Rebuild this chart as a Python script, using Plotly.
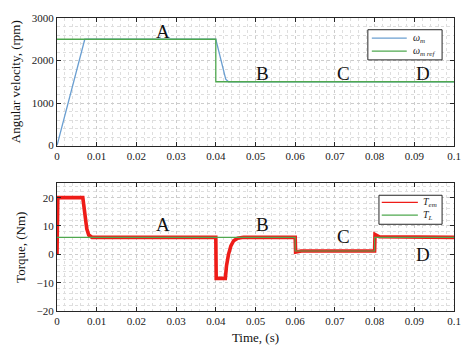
import plotly.graph_objects as go

# ---- data ----
t_w = [0, 0.007, 0.04, 0.0425, 0.0432, 0.1]
w_m = [0, 2500, 2500, 1560, 1500, 1500]
t_wref = [0, 0.04, 0.04, 0.1]
w_ref = [2500, 2500, 1500, 1500]

t_tem = [0, 0.0002, 0.0065, 0.0070, 0.0075, 0.0080, 0.0088, 0.04, 0.0401, 0.0424,
         0.0427, 0.0432, 0.0438, 0.0445, 0.0455, 0.047, 0.06, 0.0601, 0.0615, 0.08,
         0.0801, 0.0812, 0.1]
tem = [0, 20, 20, 14, 9, 6.8, 6, 6, -8.5, -8.5,
       -4, 0, 3, 4.8, 5.7, 6, 6, 0.8, 1.2, 1.2,
       7, 6.2, 6]
t_tl = [0, 0.06, 0.06, 0.08, 0.08, 0.1]
tl = [6, 6, 1.2, 1.2, 6, 6]

labels = ["A", "B", "C", "D"]
lab_t = [0.0267, 0.0518, 0.0721, 0.0922]
lab_w = [2690, 1690, 1690, 1690]
lab_tq = [10.4, 10.4, 6.3, 0.1]

x_ticks = [0, 0.01, 0.02, 0.03, 0.04, 0.05, 0.06, 0.07, 0.08, 0.09, 0.1]
y1_ticks = [0, 1000, 2000, 3000]
y2_ticks = [-20, -10, 0, 10, 20]

FONT = "Liberation Serif"
AX = "#262626"
C_WM = "#6b9fd1"
C_G = "#4fa84f"
C_R = "#ee1c18"

fig = go.Figure()
fig.add_trace(go.Scatter(x=t_w, y=w_m, mode="lines", line=dict(color=C_WM, width=1.3),
                         name="ω_m", xaxis="x", yaxis="y"))
fig.add_trace(go.Scatter(x=t_wref, y=w_ref, mode="lines", line=dict(color=C_G, width=1.3),
                         name="ω_m ref", xaxis="x", yaxis="y"))
fig.add_trace(go.Scatter(x=t_tem, y=tem, mode="lines", line=dict(color=C_R, width=3.6),
                         name="T_em", xaxis="x2", yaxis="y2"))
fig.add_trace(go.Scatter(x=t_tl, y=tl, mode="lines", line=dict(color=C_G, width=1.1),
                         name="T_L", xaxis="x2", yaxis="y2"))

annos = []
for lab, tx, wy, qy in zip(labels, lab_t, lab_w, lab_tq):
    annos.append(dict(x=tx, y=wy, xref="x", yref="y", text=lab, showarrow=False,
                      font=dict(family=FONT, size=19, color="#111")))
    annos.append(dict(x=tx, y=qy, xref="x2", yref="y2", text=lab, showarrow=False,
                      font=dict(family=FONT, size=19, color="#111")))

# ---- manual legends (box, line samples, labels) in paper coords ----
shapes = []
legends = [
    dict(box=(0.783, 0.857, 0.970, 0.960), lx=(0.793, 0.881), tx=0.892,
         items=[(0.931, C_WM, 1.3, "<i>ω<sub>m</sub></i>"),
                (0.887, C_G, 1.3, "<i>ω<sub>m ref</sub></i>")]),
    dict(box=(0.811, 0.296, 0.970, 0.395), lx=(0.818, 0.909), tx=0.916,
         items=[(0.371, C_R, 1.3, "<i>T<sub>em</sub></i>"),
                (0.327, C_G, 1.3, "<i>T<sub>L</sub></i>")]),
]
for lg in legends:
    x0, y0, x1, y1 = lg["box"]
    shapes.append(dict(type="rect", xref="paper", yref="paper", x0=x0, y0=y0, x1=x1, y1=y1,
                       line=dict(color=AX, width=1), fillcolor="white", layer="above"))
    for yy, col, wd, txt in lg["items"]:
        shapes.append(dict(type="line", xref="paper", yref="paper", x0=lg["lx"][0], x1=lg["lx"][1],
                           y0=yy, y1=yy, line=dict(color=col, width=wd), layer="above"))
        annos.append(dict(x=lg["tx"], y=yy, xref="paper", yref="paper", text=txt, showarrow=False,
                          xanchor="left", yanchor="middle",
                          font=dict(family=FONT, size=10, color="#222")))

def xax(anchor, title=None):
    d = dict(range=[0, 0.1], tickvals=x_ticks, ticks="inside", ticklen=4, tickcolor=AX,
             showline=True, linecolor=AX, linewidth=1, mirror="ticks",
             showgrid=True, gridcolor="#cccccc", griddash="dot", gridwidth=1,
             minor=dict(dtick=0.002, showgrid=True, gridcolor="#dedede", griddash="dot", ticks=""),
             zeroline=False, anchor=anchor, tickfont=dict(family=FONT, size=11, color="#222"))
    if title:
        d["title"] = dict(text=title, font=dict(family=FONT, size=13, color="#111"), standoff=6)
    return d

def yax(anchor, rng, tv, dt, domain, title):
    return dict(range=rng, tickvals=tv, ticks="inside", ticklen=4, tickcolor=AX,
                showline=True, linecolor=AX, linewidth=1, mirror="ticks",
                showgrid=True, gridcolor="#cccccc", griddash="dot", gridwidth=1,
                minor=dict(dtick=dt, showgrid=True, gridcolor="#dedede", griddash="dot", ticks=""),
                zeroline=False, anchor=anchor, domain=domain,
                tickfont=dict(family=FONT, size=11, color="#222"),
                title=dict(text=title, font=dict(family=FONT, size=13, color="#111"), standoff=8))

fig.update_layout(
    width=474, height=354,
    margin=dict(l=57, r=20, t=13, b=40),
    paper_bgcolor="white", plot_bgcolor="white",
    xaxis=xax("y"),
    yaxis=yax("x", [0, 3000], y1_ticks, 200, [0.5648, 1.0], "Angular velocity, (rpm)"),
    xaxis2=xax("y2", "Time, (s)"),
    yaxis2=yax("x2", [-20, 25], y2_ticks, 2, [0.0, 0.4352], "Torque, (Nm)"),
    annotations=annos,
    shapes=shapes,
    showlegend=False,
)

fig.write_html("out.html")
